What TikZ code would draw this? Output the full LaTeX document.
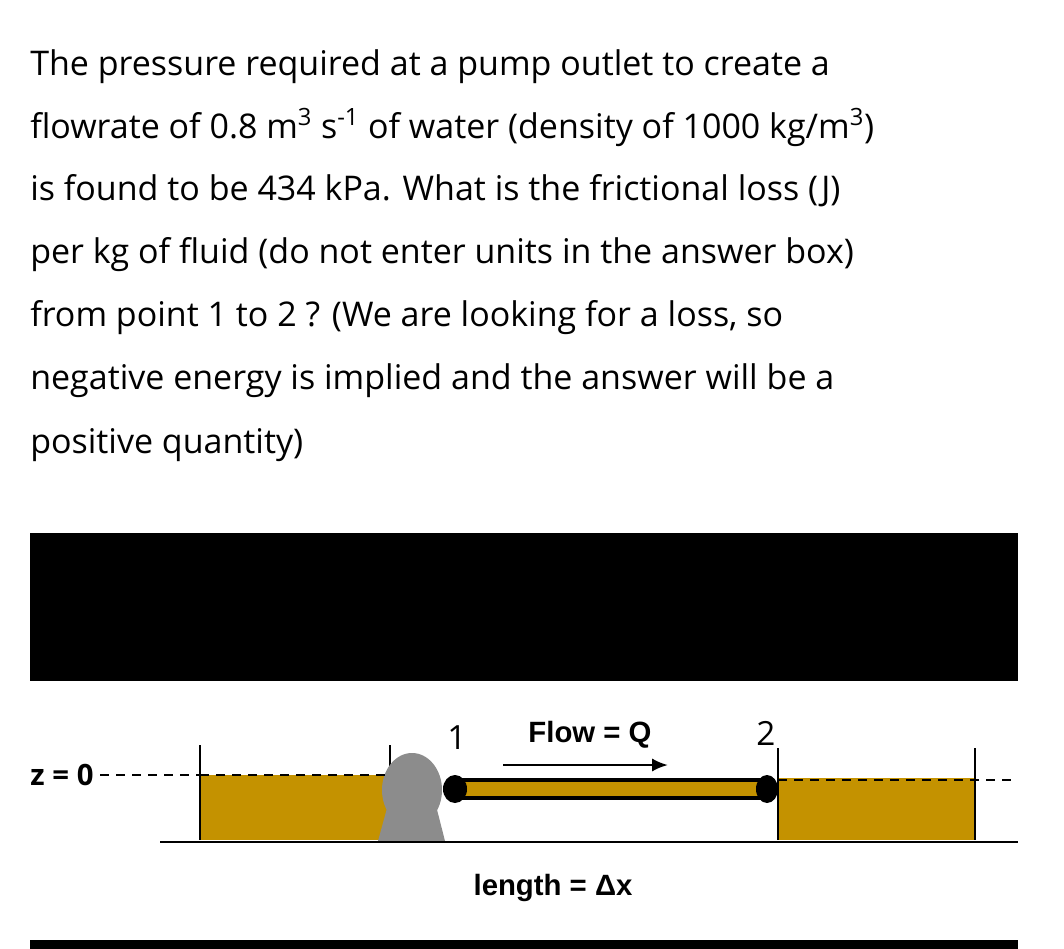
\documentclass[tikz,border=0pt]{standalone}
\usepackage{fontspec}
\usetikzlibrary{arrows.meta}
\setmainfont{Open Sans}
\newfontfamily\lblfont{Liberation Sans}
\definecolor{gold}{RGB}{196,146,0}
\definecolor{pumpgray}{RGB}{140,140,140}
\begin{document}
\begin{tikzpicture}[x=0.75pt,y=-0.75pt,
  para/.style={anchor=base west,inner sep=0,font=\fontsize{25.5}{30}\selectfont},
  lbl/.style={inner sep=0,font=\lblfont\bfseries\fontsize{22}{26}\selectfont},
  wall/.style={line width=1.6pt},
  dsh/.style={dash pattern=on 7pt off 5pt,line width=1.6pt}]
\useasboundingbox (0,0) rectangle (1064,949);
\fill[white] (0,0) rectangle (1064,949);
\node[para] (l1) at (30,75) {The pressure required at a pump outlet to create a};
\node[para] (l2) at (30,138) {flowrate of 0.8 m\textsuperscript{3} s\textsuperscript{-1} of water (density of 1000 kg/m\textsuperscript{3})};
\node[para] (l3) at (30,200) {is found to be 434 kPa. What is the frictional loss (J)};
\node[para] (l4) at (30,263) {per kg of fluid (do not enter units in the answer box)};
\node[para] (l5) at (30,326) {from point 1 to 2 ? (We are looking for a loss, so};
\node[para] (l6) at (30,389) {negative energy is implied and the answer will be a};
\node[para] (l7) at (30,453) {positive quantity)};
\fill[black] (30,533) rectangle (1018,681);
\fill[black] (30,940) rectangle (1018,949);
% tanks
\fill[gold] (200,775) rectangle (390,840);
\fill[gold] (778,778) rectangle (975,840);
% pump
\fill[pumpgray] (378,841) -- (392,790) -- (432,790) -- (445,841) -- cycle;
\draw[wall] (390,745) -- (390,790);
\fill[pumpgray] (412,790) ellipse [x radius=30, y radius=37];
\draw[wall] (200,745) -- (200,840);
\draw[wall] (778,748) -- (778,840);
\draw[wall] (975,748) -- (975,840);
\draw[dsh] (200,775) -- (390,775);
\draw[dsh] (100,775) -- (200,775);
\draw[dsh] (778,780) -- (1015,780);
% pipe
\fill[gold] (455,780) rectangle (767,798);
\draw[line width=2.6pt] (455,780) -- (767,780);
\draw[line width=2.6pt] (455,798) -- (767,798);
\fill[black] (455,789) ellipse [x radius=12, y radius=14];
\fill[black] (767,789) ellipse [x radius=11, y radius=14];
\draw[line width=1.6pt] (160,842) -- (1018,842);
% labels
\node[inner sep=0,font=\fontsize{25}{30}\selectfont] (n1) at (457,738) {1};
\node[inner sep=0,font=\fontsize{25}{30}\selectfont] (n2) at (766,733) {2};
\node[lbl] (flow) at (590,735) {Flow = Q};
\coordinate (as) at (503,765);
\coordinate (ae) at (668,765);
\draw[line width=2pt,-{Latex[length=12pt,width=10pt]}] (as) -- (ae);
\node[lbl] (len) at (553,888) {length = Δx};
\node[inner sep=0,font=\bfseries\fontsize{22}{26}\selectfont] (z) at (62,775) {z = 0};
\end{tikzpicture}
\end{document}
